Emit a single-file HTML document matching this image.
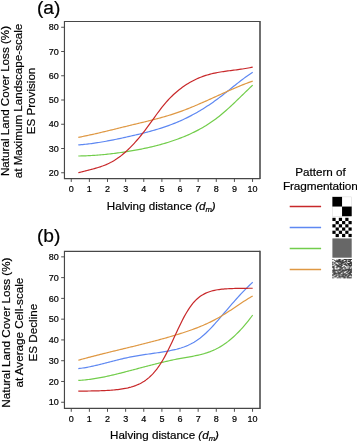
<!DOCTYPE html>
<html><head><meta charset="utf-8"><style>
html,body{margin:0;padding:0;background:#fff;}
body{width:357px;height:441px;overflow:hidden;}
svg{display:block;}
text{font-family:"Liberation Sans",Arial,sans-serif;fill:#000;stroke:#000;stroke-width:0.2px;}
.tk{font-size:9px;}
.lab{font-size:11.75px;}
.big{font-size:19.2px;}
.ttl{font-size:11.65px;}
.xt{font-size:11.6px;}
.lg{font-size:11.68px;}
.lg2{font-size:11.8px;}
</style></head><body>
<svg width="357" height="441" viewBox="0 0 357 441">
<rect width="357" height="441" fill="#fff"/>
<path d="M260.0,21.5 H64.45 V178.55 H260.0" fill="none" stroke="#474747" stroke-width="1.15"/>
<line x1="260.0" y1="20.95" x2="260.0" y2="179.10000000000002" stroke="#474747" stroke-width="1.55"/>
<line x1="61.150000000000006" y1="27.25" x2="64.45" y2="27.25" stroke="#474747" stroke-width="0.95"/>
<text x="58.85" y="30.45" text-anchor="end" class="tk">80</text>
<line x1="61.150000000000006" y1="51.50" x2="64.45" y2="51.50" stroke="#474747" stroke-width="0.95"/>
<text x="58.85" y="54.70" text-anchor="end" class="tk">70</text>
<line x1="61.150000000000006" y1="75.75" x2="64.45" y2="75.75" stroke="#474747" stroke-width="0.95"/>
<text x="58.85" y="78.95" text-anchor="end" class="tk">60</text>
<line x1="61.150000000000006" y1="100.00" x2="64.45" y2="100.00" stroke="#474747" stroke-width="0.95"/>
<text x="58.85" y="103.20" text-anchor="end" class="tk">50</text>
<line x1="61.150000000000006" y1="124.25" x2="64.45" y2="124.25" stroke="#474747" stroke-width="0.95"/>
<text x="58.85" y="127.45" text-anchor="end" class="tk">40</text>
<line x1="61.150000000000006" y1="148.50" x2="64.45" y2="148.50" stroke="#474747" stroke-width="0.95"/>
<text x="58.85" y="151.70" text-anchor="end" class="tk">30</text>
<line x1="61.150000000000006" y1="172.75" x2="64.45" y2="172.75" stroke="#474747" stroke-width="0.95"/>
<text x="58.85" y="175.95" text-anchor="end" class="tk">20</text>
<line x1="71.25" y1="178.55" x2="71.25" y2="181.95000000000002" stroke="#474747" stroke-width="0.95"/>
<text x="71.25" y="192.05" text-anchor="middle" class="tk">0</text>
<line x1="89.38" y1="178.55" x2="89.38" y2="181.95000000000002" stroke="#474747" stroke-width="0.95"/>
<text x="89.38" y="192.05" text-anchor="middle" class="tk">1</text>
<line x1="107.51" y1="178.55" x2="107.51" y2="181.95000000000002" stroke="#474747" stroke-width="0.95"/>
<text x="107.51" y="192.05" text-anchor="middle" class="tk">2</text>
<line x1="125.64" y1="178.55" x2="125.64" y2="181.95000000000002" stroke="#474747" stroke-width="0.95"/>
<text x="125.64" y="192.05" text-anchor="middle" class="tk">3</text>
<line x1="143.77" y1="178.55" x2="143.77" y2="181.95000000000002" stroke="#474747" stroke-width="0.95"/>
<text x="143.77" y="192.05" text-anchor="middle" class="tk">4</text>
<line x1="161.90" y1="178.55" x2="161.90" y2="181.95000000000002" stroke="#474747" stroke-width="0.95"/>
<text x="161.90" y="192.05" text-anchor="middle" class="tk">5</text>
<line x1="180.03" y1="178.55" x2="180.03" y2="181.95000000000002" stroke="#474747" stroke-width="0.95"/>
<text x="180.03" y="192.05" text-anchor="middle" class="tk">6</text>
<line x1="198.16" y1="178.55" x2="198.16" y2="181.95000000000002" stroke="#474747" stroke-width="0.95"/>
<text x="198.16" y="192.05" text-anchor="middle" class="tk">7</text>
<line x1="216.29" y1="178.55" x2="216.29" y2="181.95000000000002" stroke="#474747" stroke-width="0.95"/>
<text x="216.29" y="192.05" text-anchor="middle" class="tk">8</text>
<line x1="234.42" y1="178.55" x2="234.42" y2="181.95000000000002" stroke="#474747" stroke-width="0.95"/>
<text x="234.42" y="192.05" text-anchor="middle" class="tk">9</text>
<line x1="252.55" y1="178.55" x2="252.55" y2="181.95000000000002" stroke="#474747" stroke-width="0.95"/>
<text x="252.55" y="192.05" text-anchor="middle" class="tk">10</text>
<text x="161.3" y="209.50" text-anchor="middle" class="xt">Halving distance <tspan font-style="italic">(d</tspan><tspan font-style="italic" font-size="7.7px" dy="2.2">m</tspan><tspan font-style="italic" dy="-2.2">)</tspan></text>
<path d="M78.30,156.02 L79.77,155.99 L81.23,155.96 L82.70,155.92 L84.16,155.87 L85.63,155.81 L87.09,155.75 L88.56,155.68 L90.02,155.61 L91.49,155.52 L92.96,155.44 L94.42,155.34 L95.89,155.24 L97.35,155.13 L98.82,155.01 L100.28,154.89 L101.75,154.76 L103.21,154.62 L104.68,154.48 L106.15,154.33 L107.61,154.18 L109.08,154.02 L110.54,153.85 L112.01,153.68 L113.47,153.50 L114.94,153.32 L116.40,153.13 L117.87,152.93 L119.34,152.73 L120.80,152.53 L122.27,152.31 L123.73,152.10 L125.20,151.87 L126.66,151.64 L128.13,151.41 L129.59,151.17 L131.06,150.93 L132.53,150.68 L133.99,150.42 L135.46,150.16 L136.92,149.89 L138.39,149.62 L139.85,149.34 L141.32,149.05 L142.78,148.76 L144.25,148.46 L145.72,148.15 L147.18,147.83 L148.65,147.51 L150.11,147.17 L151.58,146.83 L153.04,146.48 L154.51,146.13 L155.97,145.76 L157.44,145.38 L158.91,144.99 L160.37,144.60 L161.84,144.19 L163.30,143.77 L164.77,143.34 L166.23,142.91 L167.70,142.46 L169.16,141.99 L170.63,141.52 L172.09,141.04 L173.56,140.54 L175.03,140.03 L176.49,139.51 L177.96,138.98 L179.42,138.43 L180.89,137.87 L182.35,137.29 L183.82,136.70 L185.28,136.10 L186.75,135.48 L188.22,134.84 L189.68,134.19 L191.15,133.52 L192.61,132.83 L194.08,132.12 L195.54,131.39 L197.01,130.64 L198.47,129.87 L199.94,129.07 L201.41,128.25 L202.87,127.41 L204.34,126.55 L205.80,125.66 L207.27,124.74 L208.73,123.80 L210.20,122.83 L211.66,121.84 L213.13,120.81 L214.60,119.76 L216.06,118.68 L217.53,117.56 L218.99,116.42 L220.46,115.24 L221.92,114.03 L223.39,112.79 L224.85,111.53 L226.32,110.24 L227.79,108.92 L229.25,107.59 L230.72,106.24 L232.18,104.87 L233.65,103.48 L235.11,102.09 L236.58,100.68 L238.04,99.27 L239.51,97.85 L240.98,96.42 L242.44,95.00 L243.91,93.58 L245.37,92.16 L246.84,90.74 L248.30,89.33 L249.77,87.93 L251.23,86.55 L252.70,85.17" fill="none" stroke="#72cd4b" stroke-width="1.2" stroke-linejoin="round"/>
<path d="M78.30,144.95 L79.77,144.83 L81.23,144.71 L82.70,144.57 L84.16,144.42 L85.63,144.27 L87.09,144.10 L88.56,143.93 L90.02,143.74 L91.49,143.55 L92.96,143.35 L94.42,143.14 L95.89,142.93 L97.35,142.71 L98.82,142.47 L100.28,142.24 L101.75,141.99 L103.21,141.74 L104.68,141.48 L106.15,141.22 L107.61,140.95 L109.08,140.68 L110.54,140.39 L112.01,140.11 L113.47,139.82 L114.94,139.52 L116.40,139.22 L117.87,138.92 L119.34,138.61 L120.80,138.30 L122.27,137.98 L123.73,137.66 L125.20,137.34 L126.66,137.02 L128.13,136.69 L129.59,136.36 L131.06,136.03 L132.53,135.69 L133.99,135.36 L135.46,135.02 L136.92,134.67 L138.39,134.33 L139.85,133.97 L141.32,133.62 L142.78,133.25 L144.25,132.89 L145.72,132.51 L147.18,132.13 L148.65,131.74 L150.11,131.35 L151.58,130.94 L153.04,130.53 L154.51,130.11 L155.97,129.69 L157.44,129.25 L158.91,128.80 L160.37,128.34 L161.84,127.87 L163.30,127.39 L164.77,126.90 L166.23,126.40 L167.70,125.88 L169.16,125.35 L170.63,124.81 L172.09,124.25 L173.56,123.68 L175.03,123.10 L176.49,122.50 L177.96,121.88 L179.42,121.25 L180.89,120.61 L182.35,119.94 L183.82,119.27 L185.28,118.57 L186.75,117.86 L188.22,117.13 L189.68,116.38 L191.15,115.62 L192.61,114.84 L194.08,114.05 L195.54,113.23 L197.01,112.40 L198.47,111.56 L199.94,110.69 L201.41,109.81 L202.87,108.92 L204.34,108.00 L205.80,107.07 L207.27,106.12 L208.73,105.15 L210.20,104.17 L211.66,103.17 L213.13,102.15 L214.60,101.11 L216.06,100.06 L217.53,98.98 L218.99,97.89 L220.46,96.78 L221.92,95.66 L223.39,94.52 L224.85,93.37 L226.32,92.21 L227.79,91.04 L229.25,89.86 L230.72,88.69 L232.18,87.51 L233.65,86.33 L235.11,85.16 L236.58,84.00 L238.04,82.85 L239.51,81.70 L240.98,80.58 L242.44,79.46 L243.91,78.37 L245.37,77.30 L246.84,76.25 L248.30,75.23 L249.77,74.24 L251.23,73.28 L252.70,72.35" fill="none" stroke="#5e88f2" stroke-width="1.2" stroke-linejoin="round"/>
<path d="M78.30,137.36 L79.77,137.08 L81.23,136.79 L82.70,136.50 L84.16,136.20 L85.63,135.90 L87.09,135.59 L88.56,135.28 L90.02,134.96 L91.49,134.64 L92.96,134.32 L94.42,133.99 L95.89,133.65 L97.35,133.32 L98.82,132.98 L100.28,132.64 L101.75,132.29 L103.21,131.94 L104.68,131.59 L106.15,131.24 L107.61,130.89 L109.08,130.53 L110.54,130.18 L112.01,129.82 L113.47,129.46 L114.94,129.10 L116.40,128.74 L117.87,128.38 L119.34,128.01 L120.80,127.65 L122.27,127.29 L123.73,126.93 L125.20,126.57 L126.66,126.21 L128.13,125.86 L129.59,125.50 L131.06,125.14 L132.53,124.79 L133.99,124.44 L135.46,124.09 L136.92,123.73 L138.39,123.38 L139.85,123.03 L141.32,122.68 L142.78,122.32 L144.25,121.96 L145.72,121.61 L147.18,121.24 L148.65,120.88 L150.11,120.51 L151.58,120.14 L153.04,119.77 L154.51,119.39 L155.97,119.00 L157.44,118.61 L158.91,118.22 L160.37,117.82 L161.84,117.41 L163.30,116.99 L164.77,116.57 L166.23,116.14 L167.70,115.71 L169.16,115.26 L170.63,114.81 L172.09,114.34 L173.56,113.87 L175.03,113.39 L176.49,112.90 L177.96,112.39 L179.42,111.88 L180.89,111.36 L182.35,110.82 L183.82,110.27 L185.28,109.71 L186.75,109.15 L188.22,108.57 L189.68,107.98 L191.15,107.39 L192.61,106.79 L194.08,106.18 L195.54,105.56 L197.01,104.94 L198.47,104.31 L199.94,103.67 L201.41,103.03 L202.87,102.39 L204.34,101.74 L205.80,101.09 L207.27,100.43 L208.73,99.77 L210.20,99.11 L211.66,98.45 L213.13,97.78 L214.60,97.12 L216.06,96.45 L217.53,95.78 L218.99,95.12 L220.46,94.45 L221.92,93.79 L223.39,93.12 L224.85,92.46 L226.32,91.81 L227.79,91.15 L229.25,90.50 L230.72,89.86 L232.18,89.22 L233.65,88.58 L235.11,87.95 L236.58,87.33 L238.04,86.72 L239.51,86.11 L240.98,85.51 L242.44,84.92 L243.91,84.34 L245.37,83.77 L246.84,83.21 L248.30,82.66 L249.77,82.12 L251.23,81.59 L252.70,81.07" fill="none" stroke="#df9843" stroke-width="1.2" stroke-linejoin="round"/>
<path d="M78.30,172.77 L79.77,172.37 L81.23,171.98 L82.70,171.60 L84.16,171.22 L85.63,170.86 L87.09,170.49 L88.56,170.13 L90.02,169.76 L91.49,169.38 L92.96,168.99 L94.42,168.59 L95.89,168.18 L97.35,167.75 L98.82,167.29 L100.28,166.81 L101.75,166.30 L103.21,165.77 L104.68,165.19 L106.15,164.59 L107.61,163.94 L109.08,163.25 L110.54,162.52 L112.01,161.73 L113.47,160.90 L114.94,160.01 L116.40,159.07 L117.87,158.06 L119.34,157.01 L120.80,155.90 L122.27,154.73 L123.73,153.51 L125.20,152.24 L126.66,150.91 L128.13,149.54 L129.59,148.11 L131.06,146.64 L132.53,145.12 L133.99,143.55 L135.46,141.93 L136.92,140.26 L138.39,138.55 L139.85,136.80 L141.32,135.00 L142.78,133.15 L144.25,131.27 L145.72,129.34 L147.18,127.38 L148.65,125.38 L150.11,123.37 L151.58,121.34 L153.04,119.31 L154.51,117.28 L155.97,115.26 L157.44,113.26 L158.91,111.29 L160.37,109.36 L161.84,107.47 L163.30,105.63 L164.77,103.85 L166.23,102.14 L167.70,100.49 L169.16,98.91 L170.63,97.40 L172.09,95.95 L173.56,94.55 L175.03,93.22 L176.49,91.94 L177.96,90.71 L179.42,89.53 L180.89,88.41 L182.35,87.33 L183.82,86.29 L185.28,85.30 L186.75,84.35 L188.22,83.44 L189.68,82.57 L191.15,81.74 L192.61,80.95 L194.08,80.20 L195.54,79.48 L197.01,78.80 L198.47,78.16 L199.94,77.54 L201.41,76.97 L202.87,76.42 L204.34,75.91 L205.80,75.43 L207.27,74.98 L208.73,74.55 L210.20,74.16 L211.66,73.79 L213.13,73.44 L214.60,73.12 L216.06,72.81 L217.53,72.53 L218.99,72.26 L220.46,72.00 L221.92,71.77 L223.39,71.54 L224.85,71.32 L226.32,71.12 L227.79,70.92 L229.25,70.73 L230.72,70.54 L232.18,70.35 L233.65,70.17 L235.11,69.98 L236.58,69.79 L238.04,69.60 L239.51,69.40 L240.98,69.20 L242.44,68.99 L243.91,68.76 L245.37,68.53 L246.84,68.28 L248.30,68.02 L249.77,67.74 L251.23,67.44 L252.70,67.12" fill="none" stroke="#c8282a" stroke-width="1.2" stroke-linejoin="round"/>
<text transform="translate(8.9,101.0) rotate(-90)" text-anchor="middle" class="ttl">Natural Land Cover Loss (%)</text>
<text transform="translate(22.0,101.0) rotate(-90)" text-anchor="middle" class="ttl">at Maximum Landscape-scale</text>
<text transform="translate(34.9,101.0) rotate(-90)" text-anchor="middle" class="ttl">ES Provision</text>
<text x="48.7" y="14.20" text-anchor="middle" class="big">(a)</text>
<path d="M260.0,251.35 H64.45 V408.4 H260.0" fill="none" stroke="#474747" stroke-width="1.15"/>
<line x1="260.0" y1="250.79999999999998" x2="260.0" y2="408.95" stroke="#474747" stroke-width="1.55"/>
<line x1="61.150000000000006" y1="256.85" x2="64.45" y2="256.85" stroke="#474747" stroke-width="0.95"/>
<text x="58.85" y="260.05" text-anchor="end" class="tk">80</text>
<line x1="61.150000000000006" y1="277.62" x2="64.45" y2="277.62" stroke="#474747" stroke-width="0.95"/>
<text x="58.85" y="280.82" text-anchor="end" class="tk">70</text>
<line x1="61.150000000000006" y1="298.39" x2="64.45" y2="298.39" stroke="#474747" stroke-width="0.95"/>
<text x="58.85" y="301.59" text-anchor="end" class="tk">60</text>
<line x1="61.150000000000006" y1="319.16" x2="64.45" y2="319.16" stroke="#474747" stroke-width="0.95"/>
<text x="58.85" y="322.36" text-anchor="end" class="tk">50</text>
<line x1="61.150000000000006" y1="339.93" x2="64.45" y2="339.93" stroke="#474747" stroke-width="0.95"/>
<text x="58.85" y="343.13" text-anchor="end" class="tk">40</text>
<line x1="61.150000000000006" y1="360.71" x2="64.45" y2="360.71" stroke="#474747" stroke-width="0.95"/>
<text x="58.85" y="363.91" text-anchor="end" class="tk">30</text>
<line x1="61.150000000000006" y1="381.48" x2="64.45" y2="381.48" stroke="#474747" stroke-width="0.95"/>
<text x="58.85" y="384.68" text-anchor="end" class="tk">20</text>
<line x1="61.150000000000006" y1="402.25" x2="64.45" y2="402.25" stroke="#474747" stroke-width="0.95"/>
<text x="58.85" y="405.45" text-anchor="end" class="tk">10</text>
<line x1="71.25" y1="408.4" x2="71.25" y2="411.79999999999995" stroke="#474747" stroke-width="0.95"/>
<text x="71.25" y="421.90" text-anchor="middle" class="tk">0</text>
<line x1="89.38" y1="408.4" x2="89.38" y2="411.79999999999995" stroke="#474747" stroke-width="0.95"/>
<text x="89.38" y="421.90" text-anchor="middle" class="tk">1</text>
<line x1="107.51" y1="408.4" x2="107.51" y2="411.79999999999995" stroke="#474747" stroke-width="0.95"/>
<text x="107.51" y="421.90" text-anchor="middle" class="tk">2</text>
<line x1="125.64" y1="408.4" x2="125.64" y2="411.79999999999995" stroke="#474747" stroke-width="0.95"/>
<text x="125.64" y="421.90" text-anchor="middle" class="tk">3</text>
<line x1="143.77" y1="408.4" x2="143.77" y2="411.79999999999995" stroke="#474747" stroke-width="0.95"/>
<text x="143.77" y="421.90" text-anchor="middle" class="tk">4</text>
<line x1="161.90" y1="408.4" x2="161.90" y2="411.79999999999995" stroke="#474747" stroke-width="0.95"/>
<text x="161.90" y="421.90" text-anchor="middle" class="tk">5</text>
<line x1="180.03" y1="408.4" x2="180.03" y2="411.79999999999995" stroke="#474747" stroke-width="0.95"/>
<text x="180.03" y="421.90" text-anchor="middle" class="tk">6</text>
<line x1="198.16" y1="408.4" x2="198.16" y2="411.79999999999995" stroke="#474747" stroke-width="0.95"/>
<text x="198.16" y="421.90" text-anchor="middle" class="tk">7</text>
<line x1="216.29" y1="408.4" x2="216.29" y2="411.79999999999995" stroke="#474747" stroke-width="0.95"/>
<text x="216.29" y="421.90" text-anchor="middle" class="tk">8</text>
<line x1="234.42" y1="408.4" x2="234.42" y2="411.79999999999995" stroke="#474747" stroke-width="0.95"/>
<text x="234.42" y="421.90" text-anchor="middle" class="tk">9</text>
<line x1="252.55" y1="408.4" x2="252.55" y2="411.79999999999995" stroke="#474747" stroke-width="0.95"/>
<text x="252.55" y="421.90" text-anchor="middle" class="tk">10</text>
<text x="164.5" y="438.90" text-anchor="middle" class="xt">Halving distance <tspan font-style="italic">(d</tspan><tspan font-style="italic" font-size="7.7px" dy="2.2">m</tspan><tspan font-style="italic" dy="-2.2">)</tspan></text>
<path d="M78.30,380.46 L79.77,380.37 L81.23,380.26 L82.70,380.14 L84.16,380.00 L85.63,379.85 L87.09,379.69 L88.56,379.51 L90.02,379.32 L91.49,379.12 L92.96,378.90 L94.42,378.68 L95.89,378.44 L97.35,378.19 L98.82,377.93 L100.28,377.66 L101.75,377.38 L103.21,377.09 L104.68,376.79 L106.15,376.49 L107.61,376.17 L109.08,375.85 L110.54,375.52 L112.01,375.18 L113.47,374.84 L114.94,374.49 L116.40,374.14 L117.87,373.78 L119.34,373.42 L120.80,373.05 L122.27,372.68 L123.73,372.30 L125.20,371.92 L126.66,371.54 L128.13,371.15 L129.59,370.77 L131.06,370.38 L132.53,369.99 L133.99,369.60 L135.46,369.21 L136.92,368.82 L138.39,368.43 L139.85,368.04 L141.32,367.65 L142.78,367.26 L144.25,366.87 L145.72,366.48 L147.18,366.10 L148.65,365.72 L150.11,365.33 L151.58,364.96 L153.04,364.58 L154.51,364.21 L155.97,363.84 L157.44,363.47 L158.91,363.11 L160.37,362.75 L161.84,362.40 L163.30,362.05 L164.77,361.71 L166.23,361.37 L167.70,361.04 L169.16,360.72 L170.63,360.40 L172.09,360.08 L173.56,359.78 L175.03,359.48 L176.49,359.19 L177.96,358.90 L179.42,358.63 L180.89,358.36 L182.35,358.10 L183.82,357.84 L185.28,357.59 L186.75,357.34 L188.22,357.08 L189.68,356.82 L191.15,356.56 L192.61,356.29 L194.08,356.00 L195.54,355.71 L197.01,355.40 L198.47,355.07 L199.94,354.72 L201.41,354.36 L202.87,353.96 L204.34,353.55 L205.80,353.10 L207.27,352.63 L208.73,352.12 L210.20,351.58 L211.66,351.00 L213.13,350.38 L214.60,349.72 L216.06,349.02 L217.53,348.27 L218.99,347.47 L220.46,346.63 L221.92,345.73 L223.39,344.78 L224.85,343.78 L226.32,342.73 L227.79,341.63 L229.25,340.48 L230.72,339.27 L232.18,338.02 L233.65,336.71 L235.11,335.35 L236.58,333.94 L238.04,332.48 L239.51,330.96 L240.98,329.40 L242.44,327.78 L243.91,326.11 L245.37,324.39 L246.84,322.62 L248.30,320.79 L249.77,318.92 L251.23,316.99 L252.70,315.01" fill="none" stroke="#72cd4b" stroke-width="1.2" stroke-linejoin="round"/>
<path d="M78.30,368.62 L79.77,368.44 L81.23,368.24 L82.70,368.03 L84.16,367.80 L85.63,367.55 L87.09,367.29 L88.56,367.02 L90.02,366.73 L91.49,366.42 L92.96,366.11 L94.42,365.78 L95.89,365.45 L97.35,365.11 L98.82,364.75 L100.28,364.39 L101.75,364.03 L103.21,363.66 L104.68,363.29 L106.15,362.91 L107.61,362.53 L109.08,362.15 L110.54,361.76 L112.01,361.38 L113.47,361.00 L114.94,360.62 L116.40,360.25 L117.87,359.88 L119.34,359.51 L120.80,359.15 L122.27,358.80 L123.73,358.45 L125.20,358.11 L126.66,357.79 L128.13,357.47 L129.59,357.16 L131.06,356.87 L132.53,356.59 L133.99,356.32 L135.46,356.06 L136.92,355.81 L138.39,355.56 L139.85,355.33 L141.32,355.10 L142.78,354.88 L144.25,354.66 L145.72,354.44 L147.18,354.23 L148.65,354.02 L150.11,353.81 L151.58,353.61 L153.04,353.40 L154.51,353.19 L155.97,352.97 L157.44,352.76 L158.91,352.54 L160.37,352.31 L161.84,352.08 L163.30,351.84 L164.77,351.60 L166.23,351.34 L167.70,351.08 L169.16,350.80 L170.63,350.51 L172.09,350.21 L173.56,349.90 L175.03,349.56 L176.49,349.21 L177.96,348.82 L179.42,348.42 L180.89,347.98 L182.35,347.50 L183.82,347.00 L185.28,346.45 L186.75,345.86 L188.22,345.23 L189.68,344.55 L191.15,343.82 L192.61,343.03 L194.08,342.19 L195.54,341.29 L197.01,340.33 L198.47,339.31 L199.94,338.22 L201.41,337.06 L202.87,335.83 L204.34,334.54 L205.80,333.19 L207.27,331.79 L208.73,330.34 L210.20,328.84 L211.66,327.30 L213.13,325.72 L214.60,324.11 L216.06,322.47 L217.53,320.81 L218.99,319.12 L220.46,317.42 L221.92,315.71 L223.39,313.99 L224.85,312.26 L226.32,310.53 L227.79,308.81 L229.25,307.09 L230.72,305.39 L232.18,303.70 L233.65,302.03 L235.11,300.37 L236.58,298.73 L238.04,297.12 L239.51,295.52 L240.98,293.95 L242.44,292.40 L243.91,290.87 L245.37,289.37 L246.84,287.89 L248.30,286.45 L249.77,285.03 L251.23,283.65 L252.70,282.29" fill="none" stroke="#5e88f2" stroke-width="1.2" stroke-linejoin="round"/>
<path d="M78.30,360.25 L79.77,359.84 L81.23,359.43 L82.70,359.03 L84.16,358.63 L85.63,358.23 L87.09,357.84 L88.56,357.45 L90.02,357.06 L91.49,356.68 L92.96,356.30 L94.42,355.92 L95.89,355.55 L97.35,355.17 L98.82,354.80 L100.28,354.43 L101.75,354.06 L103.21,353.70 L104.68,353.33 L106.15,352.97 L107.61,352.61 L109.08,352.25 L110.54,351.89 L112.01,351.54 L113.47,351.18 L114.94,350.82 L116.40,350.47 L117.87,350.11 L119.34,349.76 L120.80,349.40 L122.27,349.05 L123.73,348.70 L125.20,348.34 L126.66,347.99 L128.13,347.63 L129.59,347.28 L131.06,346.92 L132.53,346.56 L133.99,346.21 L135.46,345.85 L136.92,345.49 L138.39,345.12 L139.85,344.76 L141.32,344.40 L142.78,344.03 L144.25,343.66 L145.72,343.29 L147.18,342.92 L148.65,342.54 L150.11,342.16 L151.58,341.78 L153.04,341.40 L154.51,341.01 L155.97,340.63 L157.44,340.23 L158.91,339.84 L160.37,339.44 L161.84,339.04 L163.30,338.63 L164.77,338.22 L166.23,337.81 L167.70,337.39 L169.16,336.97 L170.63,336.54 L172.09,336.11 L173.56,335.67 L175.03,335.23 L176.49,334.79 L177.96,334.34 L179.42,333.88 L180.89,333.42 L182.35,332.95 L183.82,332.48 L185.28,332.00 L186.75,331.51 L188.22,331.01 L189.68,330.51 L191.15,329.99 L192.61,329.47 L194.08,328.93 L195.54,328.38 L197.01,327.82 L198.47,327.24 L199.94,326.66 L201.41,326.05 L202.87,325.44 L204.34,324.80 L205.80,324.15 L207.27,323.49 L208.73,322.80 L210.20,322.10 L211.66,321.38 L213.13,320.64 L214.60,319.88 L216.06,319.09 L217.53,318.29 L218.99,317.46 L220.46,316.62 L221.92,315.74 L223.39,314.85 L224.85,313.94 L226.32,313.01 L227.79,312.07 L229.25,311.12 L230.72,310.15 L232.18,309.18 L233.65,308.21 L235.11,307.22 L236.58,306.24 L238.04,305.26 L239.51,304.28 L240.98,303.30 L242.44,302.33 L243.91,301.37 L245.37,300.42 L246.84,299.48 L248.30,298.56 L249.77,297.65 L251.23,296.77 L252.70,295.90" fill="none" stroke="#df9843" stroke-width="1.2" stroke-linejoin="round"/>
<path d="M78.30,391.09 L79.77,391.09 L81.23,391.08 L82.70,391.07 L84.16,391.06 L85.63,391.05 L87.09,391.03 L88.56,391.01 L90.02,390.99 L91.49,390.97 L92.96,390.94 L94.42,390.91 L95.89,390.88 L97.35,390.84 L98.82,390.80 L100.28,390.76 L101.75,390.70 L103.21,390.64 L104.68,390.58 L106.15,390.51 L107.61,390.43 L109.08,390.34 L110.54,390.24 L112.01,390.13 L113.47,390.01 L114.94,389.87 L116.40,389.72 L117.87,389.56 L119.34,389.37 L120.80,389.17 L122.27,388.95 L123.73,388.70 L125.20,388.43 L126.66,388.14 L128.13,387.81 L129.59,387.44 L131.06,387.05 L132.53,386.61 L133.99,386.13 L135.46,385.60 L136.92,385.01 L138.39,384.38 L139.85,383.68 L141.32,382.91 L142.78,382.07 L144.25,381.15 L145.72,380.14 L147.18,379.05 L148.65,377.85 L150.11,376.55 L151.58,375.14 L153.04,373.62 L154.51,371.96 L155.97,370.18 L157.44,368.27 L158.91,366.21 L160.37,364.02 L161.84,361.69 L163.30,359.22 L164.77,356.61 L166.23,353.88 L167.70,351.03 L169.16,348.08 L170.63,345.04 L172.09,341.93 L173.56,338.78 L175.03,335.60 L176.49,332.42 L177.96,329.26 L179.42,326.16 L180.89,323.14 L182.35,320.21 L183.82,317.40 L185.28,314.73 L186.75,312.20 L188.22,309.83 L189.68,307.62 L191.15,305.58 L192.61,303.70 L194.08,301.98 L195.54,300.42 L197.01,299.01 L198.47,297.73 L199.94,296.59 L201.41,295.57 L202.87,294.66 L204.34,293.85 L205.80,293.14 L207.27,292.51 L208.73,291.95 L210.20,291.46 L211.66,291.03 L213.13,290.65 L214.60,290.32 L216.06,290.03 L217.53,289.78 L218.99,289.56 L220.46,289.37 L221.92,289.21 L223.39,289.07 L224.85,288.94 L226.32,288.83 L227.79,288.74 L229.25,288.66 L230.72,288.59 L232.18,288.54 L233.65,288.49 L235.11,288.44 L236.58,288.41 L238.04,288.38 L239.51,288.35 L240.98,288.33 L242.44,288.31 L243.91,288.30 L245.37,288.29 L246.84,288.28 L248.30,288.27 L249.77,288.27 L251.23,288.26 L252.70,288.26" fill="none" stroke="#c8282a" stroke-width="1.2" stroke-linejoin="round"/>
<text transform="translate(10.0,332.6) rotate(-90)" text-anchor="middle" class="ttl">Natural Land Cover Loss (%)</text>
<text transform="translate(23.0,332.6) rotate(-90)" text-anchor="middle" class="ttl">at Average Cell-scale</text>
<text transform="translate(36.5,332.6) rotate(-90)" text-anchor="middle" class="ttl">ES Decline</text>
<text x="48.7" y="242.00" text-anchor="middle" class="big">(b)</text>
<text x="320.55" y="176.1" text-anchor="middle" class="lg">Pattern of</text>
<text x="282.9" y="189.9" textLength="74.8" lengthAdjust="spacing" class="lg2">Fragmentation</text>
<line x1="289.7" y1="206.55" x2="321.1" y2="206.55" stroke="#c8282a" stroke-width="1.5"/>
<line x1="289.7" y1="227.45" x2="321.1" y2="227.45" stroke="#5e88f2" stroke-width="1.5"/>
<line x1="289.7" y1="248.45" x2="321.1" y2="248.45" stroke="#72cd4b" stroke-width="1.5"/>
<line x1="289.7" y1="269.45" x2="321.1" y2="269.45" stroke="#df9843" stroke-width="1.5"/>
<rect x="332.4" y="196.9" width="19.3" height="19.3" fill="#fff" stroke="#ccc" stroke-width="0.4"/>
<rect x="332.4" y="196.9" width="9.65" height="9.65" fill="#000"/>
<rect x="342.04999999999995" y="206.55" width="9.65" height="9.65" fill="#000"/>
<g fill="#000"><rect x="332.40" y="217.80" width="3.22" height="3.22"/><rect x="338.83" y="217.80" width="3.22" height="3.22"/><rect x="345.27" y="217.80" width="3.22" height="3.22"/><rect x="335.62" y="221.02" width="3.22" height="3.22"/><rect x="342.05" y="221.02" width="3.22" height="3.22"/><rect x="348.48" y="221.02" width="3.22" height="3.22"/><rect x="332.40" y="224.23" width="3.22" height="3.22"/><rect x="338.83" y="224.23" width="3.22" height="3.22"/><rect x="345.27" y="224.23" width="3.22" height="3.22"/><rect x="335.62" y="227.45" width="3.22" height="3.22"/><rect x="342.05" y="227.45" width="3.22" height="3.22"/><rect x="348.48" y="227.45" width="3.22" height="3.22"/><rect x="332.40" y="230.67" width="3.22" height="3.22"/><rect x="338.83" y="230.67" width="3.22" height="3.22"/><rect x="345.27" y="230.67" width="3.22" height="3.22"/><rect x="335.62" y="233.88" width="3.22" height="3.22"/><rect x="342.05" y="233.88" width="3.22" height="3.22"/><rect x="348.48" y="233.88" width="3.22" height="3.22"/></g>
<rect x="332.4" y="238.4" width="19.3" height="19.3" fill="#676767"/>
<rect x="332.4" y="259.0" width="19.3" height="19.3" fill="#fff"/>
<g><rect x="332.40" y="259.00" width="1.05" height="1.05" fill="#3c3c3c"/><rect x="333.42" y="259.00" width="1.05" height="1.05" fill="#969696"/><rect x="336.46" y="259.00" width="1.05" height="1.05" fill="#969696"/><rect x="338.49" y="259.00" width="1.05" height="1.05" fill="#000000"/><rect x="339.51" y="259.00" width="1.05" height="1.05" fill="#000000"/><rect x="341.54" y="259.00" width="1.05" height="1.05" fill="#969696"/><rect x="343.57" y="259.00" width="1.05" height="1.05" fill="#000000"/><rect x="344.59" y="259.00" width="1.05" height="1.05" fill="#000000"/><rect x="345.61" y="259.00" width="1.05" height="1.05" fill="#000000"/><rect x="346.62" y="259.00" width="1.05" height="1.05" fill="#3c3c3c"/><rect x="347.64" y="259.00" width="1.05" height="1.05" fill="#3c3c3c"/><rect x="348.65" y="259.00" width="1.05" height="1.05" fill="#000000"/><rect x="349.67" y="259.00" width="1.05" height="1.05" fill="#000000"/><rect x="350.68" y="259.00" width="1.05" height="1.05" fill="#000000"/><rect x="334.43" y="260.02" width="1.05" height="1.05" fill="#000000"/><rect x="336.46" y="260.02" width="1.05" height="1.05" fill="#000000"/><rect x="337.48" y="260.02" width="1.05" height="1.05" fill="#3c3c3c"/><rect x="338.49" y="260.02" width="1.05" height="1.05" fill="#000000"/><rect x="339.51" y="260.02" width="1.05" height="1.05" fill="#000000"/><rect x="341.54" y="260.02" width="1.05" height="1.05" fill="#000000"/><rect x="342.56" y="260.02" width="1.05" height="1.05" fill="#000000"/><rect x="345.61" y="260.02" width="1.05" height="1.05" fill="#000000"/><rect x="347.64" y="260.02" width="1.05" height="1.05" fill="#3c3c3c"/><rect x="348.65" y="260.02" width="1.05" height="1.05" fill="#969696"/><rect x="349.67" y="260.02" width="1.05" height="1.05" fill="#000000"/><rect x="332.40" y="261.03" width="1.05" height="1.05" fill="#969696"/><rect x="335.45" y="261.03" width="1.05" height="1.05" fill="#000000"/><rect x="336.46" y="261.03" width="1.05" height="1.05" fill="#000000"/><rect x="337.48" y="261.03" width="1.05" height="1.05" fill="#000000"/><rect x="338.49" y="261.03" width="1.05" height="1.05" fill="#000000"/><rect x="339.51" y="261.03" width="1.05" height="1.05" fill="#000000"/><rect x="340.53" y="261.03" width="1.05" height="1.05" fill="#000000"/><rect x="341.54" y="261.03" width="1.05" height="1.05" fill="#3c3c3c"/><rect x="342.56" y="261.03" width="1.05" height="1.05" fill="#000000"/><rect x="343.57" y="261.03" width="1.05" height="1.05" fill="#969696"/><rect x="344.59" y="261.03" width="1.05" height="1.05" fill="#000000"/><rect x="345.61" y="261.03" width="1.05" height="1.05" fill="#000000"/><rect x="347.64" y="261.03" width="1.05" height="1.05" fill="#000000"/><rect x="348.65" y="261.03" width="1.05" height="1.05" fill="#000000"/><rect x="349.67" y="261.03" width="1.05" height="1.05" fill="#000000"/><rect x="350.68" y="261.03" width="1.05" height="1.05" fill="#969696"/><rect x="332.40" y="262.05" width="1.05" height="1.05" fill="#000000"/><rect x="334.43" y="262.05" width="1.05" height="1.05" fill="#000000"/><rect x="335.45" y="262.05" width="1.05" height="1.05" fill="#969696"/><rect x="337.48" y="262.05" width="1.05" height="1.05" fill="#000000"/><rect x="339.51" y="262.05" width="1.05" height="1.05" fill="#000000"/><rect x="340.53" y="262.05" width="1.05" height="1.05" fill="#3c3c3c"/><rect x="341.54" y="262.05" width="1.05" height="1.05" fill="#000000"/><rect x="342.56" y="262.05" width="1.05" height="1.05" fill="#000000"/><rect x="343.57" y="262.05" width="1.05" height="1.05" fill="#000000"/><rect x="345.61" y="262.05" width="1.05" height="1.05" fill="#000000"/><rect x="346.62" y="262.05" width="1.05" height="1.05" fill="#969696"/><rect x="349.67" y="262.05" width="1.05" height="1.05" fill="#000000"/><rect x="350.68" y="262.05" width="1.05" height="1.05" fill="#000000"/><rect x="332.40" y="263.06" width="1.05" height="1.05" fill="#3c3c3c"/><rect x="334.43" y="263.06" width="1.05" height="1.05" fill="#000000"/><rect x="335.45" y="263.06" width="1.05" height="1.05" fill="#969696"/><rect x="338.49" y="263.06" width="1.05" height="1.05" fill="#000000"/><rect x="340.53" y="263.06" width="1.05" height="1.05" fill="#000000"/><rect x="341.54" y="263.06" width="1.05" height="1.05" fill="#000000"/><rect x="342.56" y="263.06" width="1.05" height="1.05" fill="#3c3c3c"/><rect x="344.59" y="263.06" width="1.05" height="1.05" fill="#000000"/><rect x="346.62" y="263.06" width="1.05" height="1.05" fill="#3c3c3c"/><rect x="347.64" y="263.06" width="1.05" height="1.05" fill="#000000"/><rect x="348.65" y="263.06" width="1.05" height="1.05" fill="#000000"/><rect x="349.67" y="263.06" width="1.05" height="1.05" fill="#000000"/><rect x="350.68" y="263.06" width="1.05" height="1.05" fill="#000000"/><rect x="332.40" y="264.08" width="1.05" height="1.05" fill="#000000"/><rect x="333.42" y="264.08" width="1.05" height="1.05" fill="#969696"/><rect x="335.45" y="264.08" width="1.05" height="1.05" fill="#000000"/><rect x="336.46" y="264.08" width="1.05" height="1.05" fill="#000000"/><rect x="338.49" y="264.08" width="1.05" height="1.05" fill="#3c3c3c"/><rect x="339.51" y="264.08" width="1.05" height="1.05" fill="#000000"/><rect x="340.53" y="264.08" width="1.05" height="1.05" fill="#000000"/><rect x="341.54" y="264.08" width="1.05" height="1.05" fill="#3c3c3c"/><rect x="343.57" y="264.08" width="1.05" height="1.05" fill="#000000"/><rect x="344.59" y="264.08" width="1.05" height="1.05" fill="#000000"/><rect x="345.61" y="264.08" width="1.05" height="1.05" fill="#000000"/><rect x="347.64" y="264.08" width="1.05" height="1.05" fill="#000000"/><rect x="348.65" y="264.08" width="1.05" height="1.05" fill="#000000"/><rect x="350.68" y="264.08" width="1.05" height="1.05" fill="#000000"/><rect x="332.40" y="265.09" width="1.05" height="1.05" fill="#969696"/><rect x="334.43" y="265.09" width="1.05" height="1.05" fill="#3c3c3c"/><rect x="336.46" y="265.09" width="1.05" height="1.05" fill="#000000"/><rect x="337.48" y="265.09" width="1.05" height="1.05" fill="#000000"/><rect x="338.49" y="265.09" width="1.05" height="1.05" fill="#000000"/><rect x="340.53" y="265.09" width="1.05" height="1.05" fill="#000000"/><rect x="341.54" y="265.09" width="1.05" height="1.05" fill="#000000"/><rect x="345.61" y="265.09" width="1.05" height="1.05" fill="#000000"/><rect x="346.62" y="265.09" width="1.05" height="1.05" fill="#000000"/><rect x="347.64" y="265.09" width="1.05" height="1.05" fill="#969696"/><rect x="348.65" y="265.09" width="1.05" height="1.05" fill="#000000"/><rect x="349.67" y="265.09" width="1.05" height="1.05" fill="#000000"/><rect x="350.68" y="265.09" width="1.05" height="1.05" fill="#000000"/><rect x="332.40" y="266.11" width="1.05" height="1.05" fill="#000000"/><rect x="333.42" y="266.11" width="1.05" height="1.05" fill="#000000"/><rect x="336.46" y="266.11" width="1.05" height="1.05" fill="#3c3c3c"/><rect x="337.48" y="266.11" width="1.05" height="1.05" fill="#000000"/><rect x="338.49" y="266.11" width="1.05" height="1.05" fill="#000000"/><rect x="339.51" y="266.11" width="1.05" height="1.05" fill="#000000"/><rect x="340.53" y="266.11" width="1.05" height="1.05" fill="#000000"/><rect x="343.57" y="266.11" width="1.05" height="1.05" fill="#000000"/><rect x="346.62" y="266.11" width="1.05" height="1.05" fill="#969696"/><rect x="347.64" y="266.11" width="1.05" height="1.05" fill="#969696"/><rect x="348.65" y="266.11" width="1.05" height="1.05" fill="#969696"/><rect x="349.67" y="266.11" width="1.05" height="1.05" fill="#000000"/><rect x="350.68" y="266.11" width="1.05" height="1.05" fill="#969696"/><rect x="332.40" y="267.13" width="1.05" height="1.05" fill="#000000"/><rect x="333.42" y="267.13" width="1.05" height="1.05" fill="#000000"/><rect x="335.45" y="267.13" width="1.05" height="1.05" fill="#969696"/><rect x="336.46" y="267.13" width="1.05" height="1.05" fill="#000000"/><rect x="338.49" y="267.13" width="1.05" height="1.05" fill="#969696"/><rect x="339.51" y="267.13" width="1.05" height="1.05" fill="#3c3c3c"/><rect x="340.53" y="267.13" width="1.05" height="1.05" fill="#000000"/><rect x="341.54" y="267.13" width="1.05" height="1.05" fill="#3c3c3c"/><rect x="342.56" y="267.13" width="1.05" height="1.05" fill="#000000"/><rect x="343.57" y="267.13" width="1.05" height="1.05" fill="#969696"/><rect x="344.59" y="267.13" width="1.05" height="1.05" fill="#000000"/><rect x="346.62" y="267.13" width="1.05" height="1.05" fill="#969696"/><rect x="348.65" y="267.13" width="1.05" height="1.05" fill="#000000"/><rect x="349.67" y="267.13" width="1.05" height="1.05" fill="#969696"/><rect x="350.68" y="267.13" width="1.05" height="1.05" fill="#969696"/><rect x="333.42" y="268.14" width="1.05" height="1.05" fill="#000000"/><rect x="336.46" y="268.14" width="1.05" height="1.05" fill="#969696"/><rect x="339.51" y="268.14" width="1.05" height="1.05" fill="#3c3c3c"/><rect x="340.53" y="268.14" width="1.05" height="1.05" fill="#3c3c3c"/><rect x="341.54" y="268.14" width="1.05" height="1.05" fill="#000000"/><rect x="344.59" y="268.14" width="1.05" height="1.05" fill="#000000"/><rect x="345.61" y="268.14" width="1.05" height="1.05" fill="#969696"/><rect x="346.62" y="268.14" width="1.05" height="1.05" fill="#969696"/><rect x="347.64" y="268.14" width="1.05" height="1.05" fill="#969696"/><rect x="348.65" y="268.14" width="1.05" height="1.05" fill="#000000"/><rect x="350.68" y="268.14" width="1.05" height="1.05" fill="#3c3c3c"/><rect x="332.40" y="269.16" width="1.05" height="1.05" fill="#969696"/><rect x="333.42" y="269.16" width="1.05" height="1.05" fill="#000000"/><rect x="334.43" y="269.16" width="1.05" height="1.05" fill="#3c3c3c"/><rect x="336.46" y="269.16" width="1.05" height="1.05" fill="#3c3c3c"/><rect x="337.48" y="269.16" width="1.05" height="1.05" fill="#969696"/><rect x="338.49" y="269.16" width="1.05" height="1.05" fill="#000000"/><rect x="339.51" y="269.16" width="1.05" height="1.05" fill="#000000"/><rect x="340.53" y="269.16" width="1.05" height="1.05" fill="#000000"/><rect x="341.54" y="269.16" width="1.05" height="1.05" fill="#969696"/><rect x="342.56" y="269.16" width="1.05" height="1.05" fill="#000000"/><rect x="343.57" y="269.16" width="1.05" height="1.05" fill="#969696"/><rect x="344.59" y="269.16" width="1.05" height="1.05" fill="#3c3c3c"/><rect x="345.61" y="269.16" width="1.05" height="1.05" fill="#000000"/><rect x="346.62" y="269.16" width="1.05" height="1.05" fill="#000000"/><rect x="347.64" y="269.16" width="1.05" height="1.05" fill="#000000"/><rect x="348.65" y="269.16" width="1.05" height="1.05" fill="#000000"/><rect x="349.67" y="269.16" width="1.05" height="1.05" fill="#000000"/><rect x="350.68" y="269.16" width="1.05" height="1.05" fill="#000000"/><rect x="332.40" y="270.17" width="1.05" height="1.05" fill="#000000"/><rect x="333.42" y="270.17" width="1.05" height="1.05" fill="#000000"/><rect x="334.43" y="270.17" width="1.05" height="1.05" fill="#000000"/><rect x="335.45" y="270.17" width="1.05" height="1.05" fill="#000000"/><rect x="336.46" y="270.17" width="1.05" height="1.05" fill="#000000"/><rect x="337.48" y="270.17" width="1.05" height="1.05" fill="#3c3c3c"/><rect x="338.49" y="270.17" width="1.05" height="1.05" fill="#3c3c3c"/><rect x="339.51" y="270.17" width="1.05" height="1.05" fill="#000000"/><rect x="341.54" y="270.17" width="1.05" height="1.05" fill="#000000"/><rect x="342.56" y="270.17" width="1.05" height="1.05" fill="#000000"/><rect x="343.57" y="270.17" width="1.05" height="1.05" fill="#000000"/><rect x="344.59" y="270.17" width="1.05" height="1.05" fill="#000000"/><rect x="345.61" y="270.17" width="1.05" height="1.05" fill="#000000"/><rect x="347.64" y="270.17" width="1.05" height="1.05" fill="#000000"/><rect x="348.65" y="270.17" width="1.05" height="1.05" fill="#000000"/><rect x="349.67" y="270.17" width="1.05" height="1.05" fill="#3c3c3c"/><rect x="350.68" y="270.17" width="1.05" height="1.05" fill="#000000"/><rect x="332.40" y="271.19" width="1.05" height="1.05" fill="#3c3c3c"/><rect x="333.42" y="271.19" width="1.05" height="1.05" fill="#000000"/><rect x="334.43" y="271.19" width="1.05" height="1.05" fill="#3c3c3c"/><rect x="337.48" y="271.19" width="1.05" height="1.05" fill="#000000"/><rect x="339.51" y="271.19" width="1.05" height="1.05" fill="#969696"/><rect x="340.53" y="271.19" width="1.05" height="1.05" fill="#000000"/><rect x="341.54" y="271.19" width="1.05" height="1.05" fill="#000000"/><rect x="342.56" y="271.19" width="1.05" height="1.05" fill="#3c3c3c"/><rect x="343.57" y="271.19" width="1.05" height="1.05" fill="#3c3c3c"/><rect x="346.62" y="271.19" width="1.05" height="1.05" fill="#3c3c3c"/><rect x="347.64" y="271.19" width="1.05" height="1.05" fill="#000000"/><rect x="349.67" y="271.19" width="1.05" height="1.05" fill="#000000"/><rect x="350.68" y="271.19" width="1.05" height="1.05" fill="#000000"/><rect x="332.40" y="272.21" width="1.05" height="1.05" fill="#3c3c3c"/><rect x="333.42" y="272.21" width="1.05" height="1.05" fill="#3c3c3c"/><rect x="334.43" y="272.21" width="1.05" height="1.05" fill="#000000"/><rect x="335.45" y="272.21" width="1.05" height="1.05" fill="#3c3c3c"/><rect x="337.48" y="272.21" width="1.05" height="1.05" fill="#000000"/><rect x="338.49" y="272.21" width="1.05" height="1.05" fill="#000000"/><rect x="339.51" y="272.21" width="1.05" height="1.05" fill="#000000"/><rect x="340.53" y="272.21" width="1.05" height="1.05" fill="#000000"/><rect x="342.56" y="272.21" width="1.05" height="1.05" fill="#000000"/><rect x="345.61" y="272.21" width="1.05" height="1.05" fill="#3c3c3c"/><rect x="346.62" y="272.21" width="1.05" height="1.05" fill="#000000"/><rect x="348.65" y="272.21" width="1.05" height="1.05" fill="#000000"/><rect x="349.67" y="272.21" width="1.05" height="1.05" fill="#000000"/><rect x="350.68" y="272.21" width="1.05" height="1.05" fill="#000000"/><rect x="333.42" y="273.22" width="1.05" height="1.05" fill="#000000"/><rect x="334.43" y="273.22" width="1.05" height="1.05" fill="#000000"/><rect x="335.45" y="273.22" width="1.05" height="1.05" fill="#000000"/><rect x="336.46" y="273.22" width="1.05" height="1.05" fill="#000000"/><rect x="337.48" y="273.22" width="1.05" height="1.05" fill="#3c3c3c"/><rect x="338.49" y="273.22" width="1.05" height="1.05" fill="#000000"/><rect x="339.51" y="273.22" width="1.05" height="1.05" fill="#000000"/><rect x="342.56" y="273.22" width="1.05" height="1.05" fill="#000000"/><rect x="343.57" y="273.22" width="1.05" height="1.05" fill="#3c3c3c"/><rect x="344.59" y="273.22" width="1.05" height="1.05" fill="#000000"/><rect x="347.64" y="273.22" width="1.05" height="1.05" fill="#000000"/><rect x="348.65" y="273.22" width="1.05" height="1.05" fill="#000000"/><rect x="349.67" y="273.22" width="1.05" height="1.05" fill="#000000"/><rect x="332.40" y="274.24" width="1.05" height="1.05" fill="#000000"/><rect x="333.42" y="274.24" width="1.05" height="1.05" fill="#3c3c3c"/><rect x="334.43" y="274.24" width="1.05" height="1.05" fill="#000000"/><rect x="335.45" y="274.24" width="1.05" height="1.05" fill="#969696"/><rect x="336.46" y="274.24" width="1.05" height="1.05" fill="#3c3c3c"/><rect x="337.48" y="274.24" width="1.05" height="1.05" fill="#969696"/><rect x="338.49" y="274.24" width="1.05" height="1.05" fill="#000000"/><rect x="340.53" y="274.24" width="1.05" height="1.05" fill="#000000"/><rect x="341.54" y="274.24" width="1.05" height="1.05" fill="#3c3c3c"/><rect x="342.56" y="274.24" width="1.05" height="1.05" fill="#000000"/><rect x="343.57" y="274.24" width="1.05" height="1.05" fill="#000000"/><rect x="344.59" y="274.24" width="1.05" height="1.05" fill="#3c3c3c"/><rect x="345.61" y="274.24" width="1.05" height="1.05" fill="#000000"/><rect x="346.62" y="274.24" width="1.05" height="1.05" fill="#000000"/><rect x="347.64" y="274.24" width="1.05" height="1.05" fill="#969696"/><rect x="348.65" y="274.24" width="1.05" height="1.05" fill="#3c3c3c"/><rect x="349.67" y="274.24" width="1.05" height="1.05" fill="#000000"/><rect x="350.68" y="274.24" width="1.05" height="1.05" fill="#000000"/><rect x="332.40" y="275.25" width="1.05" height="1.05" fill="#000000"/><rect x="335.45" y="275.25" width="1.05" height="1.05" fill="#3c3c3c"/><rect x="336.46" y="275.25" width="1.05" height="1.05" fill="#000000"/><rect x="338.49" y="275.25" width="1.05" height="1.05" fill="#000000"/><rect x="339.51" y="275.25" width="1.05" height="1.05" fill="#3c3c3c"/><rect x="340.53" y="275.25" width="1.05" height="1.05" fill="#969696"/><rect x="341.54" y="275.25" width="1.05" height="1.05" fill="#3c3c3c"/><rect x="342.56" y="275.25" width="1.05" height="1.05" fill="#000000"/><rect x="344.59" y="275.25" width="1.05" height="1.05" fill="#000000"/><rect x="345.61" y="275.25" width="1.05" height="1.05" fill="#000000"/><rect x="347.64" y="275.25" width="1.05" height="1.05" fill="#000000"/><rect x="348.65" y="275.25" width="1.05" height="1.05" fill="#000000"/><rect x="350.68" y="275.25" width="1.05" height="1.05" fill="#000000"/><rect x="333.42" y="276.27" width="1.05" height="1.05" fill="#969696"/><rect x="334.43" y="276.27" width="1.05" height="1.05" fill="#000000"/><rect x="335.45" y="276.27" width="1.05" height="1.05" fill="#000000"/><rect x="338.49" y="276.27" width="1.05" height="1.05" fill="#000000"/><rect x="339.51" y="276.27" width="1.05" height="1.05" fill="#000000"/><rect x="340.53" y="276.27" width="1.05" height="1.05" fill="#3c3c3c"/><rect x="341.54" y="276.27" width="1.05" height="1.05" fill="#000000"/><rect x="342.56" y="276.27" width="1.05" height="1.05" fill="#000000"/><rect x="343.57" y="276.27" width="1.05" height="1.05" fill="#000000"/><rect x="344.59" y="276.27" width="1.05" height="1.05" fill="#3c3c3c"/><rect x="346.62" y="276.27" width="1.05" height="1.05" fill="#000000"/><rect x="347.64" y="276.27" width="1.05" height="1.05" fill="#000000"/><rect x="350.68" y="276.27" width="1.05" height="1.05" fill="#969696"/><rect x="332.40" y="277.28" width="1.05" height="1.05" fill="#000000"/><rect x="333.42" y="277.28" width="1.05" height="1.05" fill="#969696"/><rect x="336.46" y="277.28" width="1.05" height="1.05" fill="#969696"/><rect x="337.48" y="277.28" width="1.05" height="1.05" fill="#000000"/><rect x="339.51" y="277.28" width="1.05" height="1.05" fill="#000000"/><rect x="340.53" y="277.28" width="1.05" height="1.05" fill="#969696"/><rect x="342.56" y="277.28" width="1.05" height="1.05" fill="#969696"/><rect x="343.57" y="277.28" width="1.05" height="1.05" fill="#000000"/><rect x="344.59" y="277.28" width="1.05" height="1.05" fill="#000000"/><rect x="346.62" y="277.28" width="1.05" height="1.05" fill="#000000"/><rect x="347.64" y="277.28" width="1.05" height="1.05" fill="#3c3c3c"/><rect x="348.65" y="277.28" width="1.05" height="1.05" fill="#000000"/><rect x="349.67" y="277.28" width="1.05" height="1.05" fill="#000000"/><rect x="350.68" y="277.28" width="1.05" height="1.05" fill="#3c3c3c"/></g>
</svg>
</body></html>
